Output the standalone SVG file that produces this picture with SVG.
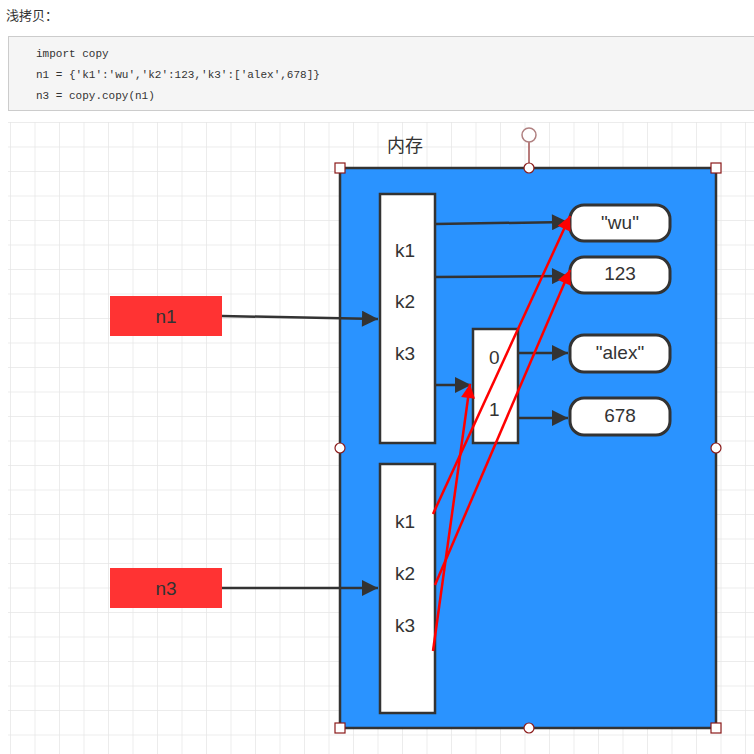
<svg xmlns="http://www.w3.org/2000/svg" width="754" height="754" viewBox="0 0 754 754">
<defs>
<pattern id="grid" x="10" y="122" width="24.5" height="24.5" patternUnits="userSpaceOnUse"><path d="M0 0H24.5M0 0V24.5" fill="none" stroke="#e6e6e6" stroke-width="1.5"/></pattern>
<marker id="ah" viewBox="0 0 10 10" refX="10" refY="5" markerWidth="7" markerHeight="6" markerUnits="userSpaceOnUse" orient="auto" ><path d="M0 0L10 5L0 10z" fill="#333"/></marker>
<marker id="ak" viewBox="0 0 10 10" refX="10" refY="5" markerWidth="22" markerHeight="16" markerUnits="userSpaceOnUse" orient="auto"><path d="M0 0L10 5L0 10z" fill="#333"/></marker>
<marker id="ar" viewBox="0 0 10 10" refX="10" refY="5" markerWidth="22" markerHeight="14" markerUnits="userSpaceOnUse" orient="auto"><path d="M0 0L10 5L0 10z" fill="#f00"/></marker>
</defs>
<style>
.t{font-family:"Liberation Sans",Arial,sans-serif;font-size:19px;fill:#333}
.code{font-family:"Liberation Mono","Courier New",monospace;font-size:11px;fill:#333}
.box{fill:#fff;stroke:#333;stroke-width:2.5}
.bub{fill:#fff;stroke:#333;stroke-width:3}
.c{stroke:#333;stroke-width:2.5;fill:none;marker-end:url(#ak)}
.r{stroke:#f00;stroke-width:2.5;fill:none;marker-end:url(#ar)}
.h{fill:#fff;stroke:#8b1a1a;stroke-width:1.2}
</style>
<rect width="754" height="754" fill="#fff"/>
<text x="6" y="20" style="font-family:'Noto Sans CJK SC',sans-serif;font-size:13px;fill:#333">浅拷贝：</text>
<rect x="8.5" y="36.5" width="750" height="74" fill="#f5f5f5" stroke="#ccc"/>
<text class="code" x="36" y="57">import copy</text>
<text class="code" x="36" y="78">n1 = {'k1':'wu','k2':123,'k3':['alex',678]}</text>
<text class="code" x="36" y="99">n3 = copy.copy(n1)</text>
<rect x="8" y="122" width="746" height="632" fill="url(#grid)"/>
<text x="387" y="152" style="font-family:'Noto Sans CJK SC',sans-serif;font-size:18px;fill:#333">内存</text>
<g id="memory">
<rect x="340" y="168" width="376" height="560" fill="#2a93ff" stroke="#333" stroke-width="2.5"/>
<line x1="529" y1="142" x2="529" y2="168" stroke="#a05050" stroke-width="1.5"/>
<circle cx="529" cy="135" r="7" fill="#fff" stroke="#b08080" stroke-width="1.5"/>
<rect class="h" x="335" y="163" width="10" height="10"/><rect class="h" x="711" y="163" width="10" height="10"/>
<rect class="h" x="335" y="723" width="10" height="10"/><rect class="h" x="711" y="723" width="10" height="10"/>
<circle class="h" cx="529" cy="168" r="5"/><circle class="h" cx="529" cy="728" r="5"/>
<circle class="h" cx="340" cy="448" r="5"/><circle class="h" cx="716" cy="448" r="5"/>
</g>
<g id="n1"><rect x="110" y="296" width="112" height="40" fill="#ff3333"/><text class="t" x="166" y="323" text-anchor="middle">n1</text></g>
<g id="n3"><rect x="110" y="568" width="112" height="40" fill="#ff3333"/><text class="t" x="166" y="595" text-anchor="middle">n3</text></g>
<g id="dict1"><rect class="box" x="380" y="194" width="55" height="249"/>
<text class="t" x="395" y="257">k1</text><text class="t" x="395" y="308">k2</text><text class="t" x="395" y="360">k3</text></g>
<g id="dict3"><rect class="box" x="380" y="464" width="55" height="249"/>
<text class="t" x="395" y="528">k1</text><text class="t" x="395" y="580">k2</text><text class="t" x="395" y="632">k3</text></g>
<g id="list"><rect class="box" x="473" y="329" width="45" height="114"/>
<text class="t" x="489" y="364">0</text><text class="t" x="489" y="416">1</text></g>
<g id="wu"><rect class="bub" x="570" y="205" width="100" height="36" rx="14"/><text class="t" x="620" y="229" text-anchor="middle">"wu"</text></g>
<g id="v123"><rect class="bub" x="570" y="257" width="100" height="36" rx="14"/><text class="t" x="620" y="280" text-anchor="middle">123</text></g>
<g id="alex"><rect class="bub" x="570" y="335" width="100" height="37" rx="14"/><text class="t" x="620" y="359" text-anchor="middle">"alex"</text></g>
<g id="v678"><rect class="bub" x="570" y="398" width="100" height="37" rx="14"/><text class="t" x="620" y="422" text-anchor="middle">678</text></g>
<g id="connectors">
<path class="c" d="M222 316L378 319"/>
<path class="c" d="M222 588L378 588"/>
<path class="c" d="M435 224L568 222"/>
<path class="c" d="M435 277L568 276"/>
<path class="c" d="M435 385L471 385"/>
<path class="c" d="M518 353L568 353"/>
<path class="c" d="M518 418L568 418"/>
<path class="r" d="M433 514L570 216"/>
<path class="r" d="M435 585L570 270"/>
<path class="r" d="M433 651L470 384"/>
</g>
</svg>
